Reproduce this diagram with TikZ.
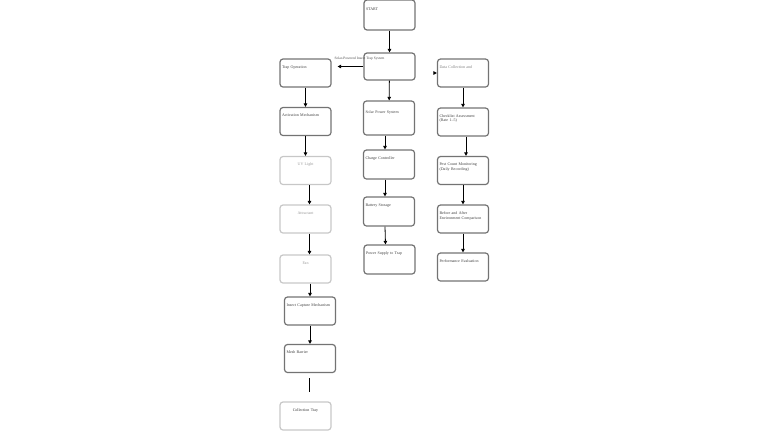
\documentclass[tikz,border=0pt]{standalone}
\usepackage{fontspec}
\setmainfont{Liberation Serif}
\usetikzlibrary{arrows.meta}

\begin{document}
\begin{tikzpicture}[x=1pt, y=-1pt,
    >={Triangle[length=3.5pt, width=3.5pt]},
    box/.style={draw=black!55, line width=1.2pt, rounded corners=3pt,
      minimum width=51pt, minimum height=28pt, text width=47pt, inner sep=2pt,
      align=left, text depth=12pt, text=black!75, font=\fontsize{4}{4.6}\selectfont},
    faint/.style={box, draw=black!22, text=black!40, align=center},
    link/.style={->, line width=0.8pt}]
  \useasboundingbox (0,0) rectangle (768,432);

  % middle column
  \node [box, minimum height=30pt] (start) at (389.5,15) {START};
  \node [box, minimum height=27pt,
    label={[anchor=north west, inner sep=0pt, xshift=-29pt, yshift=-4pt, text=black!70,
      font=\fontsize{3.6}{4}\selectfont]north west:Solar-Powered Insect Trap System}]
    (system) at (389.5,66.5) {};
  \node [box, minimum height=34pt] (solar) at (389,118) {Solar Power System};
  \node [box, minimum height=29pt] (charge) at (389,164.5) {Charge Controller};
  \node [box, minimum height=29pt] (battery) at (389,211.5) {Battery Storage};
  \node [box, minimum height=29pt] (supply) at (389.5,259.5) {Power Supply to Trap};

  % left column
  \node [box] (trapop) at (305.5,73) {Trap Operation};
  \node [box] (activ) at (305.5,121.5) {Activation Mechanism};
  \node [faint] (uv) at (305.5,170.5) {UV Light};
  \node [faint] (bait) at (305.5,219) {Attractant};
  \node [faint] (fan) at (305.5,269) {Fan};
  \node [box] (capture) at (310,311) {Insect Capture Mechanism};
  \node [box] (mesh) at (310,358.5) {Mesh Barrier};
  \node [faint, text=black!80] (tray) at (305.5,416) {Collection Tray};

  % right column
  \node [box, text=black!50] (data) at (463,73) {Data Collection and};
  \node [box] (check) at (463,122) {Checklist Assessment\\(Rate 1--5)};
  \node [box] (pest) at (463,170.5) {Pest Count Monitoring\\(Daily Recording)};
  \node [box] (before) at (463,219) {Before and After\\Environment Comparison};
  \node [box] (perf) at (463,267) {Performance Evaluation};

  \coordinate (datain) at ([xshift=-3pt]data.west);

  % connectors
  \draw [link] (start) -- (system);
  \draw [link] (system.west) -- ([xshift=6pt]system.west -| trapop.east);
  \draw [link] (system) -- (solar);
  \draw [link] ([xshift=-4pt]solar.south) -- ([xshift=-4pt]charge.north);
  \draw [link] ([xshift=-4pt]charge.south) -- ([xshift=-4pt]battery.north);
  \draw [link] ([xshift=-4pt]battery.south) -- ([xshift=-4pt]supply.north);

  \draw [link] (trapop) -- (activ);
  \draw [link] (activ) -- (uv);
  \draw [link] ([xshift=4pt]uv.south) -- ([xshift=4pt]bait.north);
  \draw [link] ([xshift=4pt]bait.south) -- ([xshift=4pt]fan.north);
  \draw [link] ([xshift=4.5pt]fan.south) -- (capture.north);
  \draw [link] (capture) -- (mesh);
  \draw [line width=0.8pt, shorten <=5pt, shorten >=9pt]
    ([xshift=-1pt]mesh.south) -- ([xshift=3.5pt]tray.north);

  \draw [link] (datain) -- (data.west);
  \draw [link] (data) -- (check);
  \draw [link] ([xshift=3pt]check.south) -- ([xshift=3pt]pest.north);
  \draw [link] (pest) -- (before);
  \draw [link] (before) -- (perf);
\end{tikzpicture}
\end{document}
